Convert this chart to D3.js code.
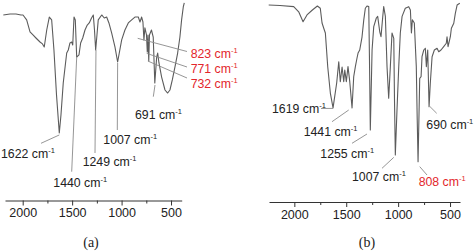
<!DOCTYPE html>
<html>
<head>
<meta charset="utf-8">
<script src="https://cdn.jsdelivr.net/npm/d3@7"></script>
<style>
  html, body { margin: 0; padding: 0; background: #fff; }
  svg { display: block; font-family: "Liberation Sans", Arial, sans-serif; }
  .spec { fill: none; stroke: #5c5c5c; stroke-width: 1.1; stroke-linejoin: round; }
  .lead { stroke: #8a8a8a; stroke-width: 0.9; }
  .axis path, .axis line { stroke: #333; }
  .axis text { font-size: 12.5px; fill: #222; font-family: "Liberation Sans", Arial, sans-serif; }
</style>
</head>
<body>
<svg id="chart" width="474" height="251"></svg>
<script>
// --- FTIR spectra, [wavenumber (cm-1), transmittance (a.u.)] ---
const spectrumA = [
  [2196, 91.9], [2128, 92.5], [2068, 92.5], [2017, 91.9], [1997, 91.9], [1960, 88.8],
  [1926, 81.3], [1896, 79.4], [1866, 77.5], [1825, 75.0], [1800, 73.8], [1782, 71.9],
  [1757, 82.5], [1731, 90.6], [1707, 88.8], [1684, 70.0], [1658, 41.9], [1630, 18.1],
  [1613, 29.4], [1590, 49.4], [1555, 68.1], [1539, 70.0], [1522, 74.4], [1505, 75.0],
  [1494, 73.1], [1481, 90.6], [1468, 88.8], [1454, 65.6], [1431, 66.9], [1414, 74.4],
  [1393, 77.5], [1370, 82.5], [1347, 85.6], [1327, 86.9], [1304, 90.0], [1286, 91.9],
  [1274, 82.5], [1262, 70.0], [1249, 79.4], [1236, 88.8], [1201, 91.9], [1175, 90.0],
  [1151, 90.6], [1128, 86.9], [1100, 80.6], [1067, 71.9], [1040, 62.5], [999, 76.3],
  [966, 82.5], [932, 86.9], [898, 88.8], [865, 90.6], [831, 90.6], [814, 87.5],
  [797, 90.6], [784, 87.5], [774, 76.3], [764, 83.8], [748, 79.4], [740, 68.8],
  [733, 79.4], [725, 63.1], [718, 79.4], [698, 82.5], [680, 78.1], [664, 49.4],
  [645, 65.6], [635, 68.1], [622, 61.9], [595, 53.1], [561, 45.0], [534, 43.1],
  [511, 45.0], [487, 51.3], [460, 59.4], [433, 68.1], [410, 78.1], [393, 88.8],
  [376, 96.9], [366, 99.4]
];

const spectrumB = [
  [2247, 98.1], [2138, 97.8], [2006, 97.1], [1958, 93.9], [1916, 87.7], [1878, 91.9],
  [1826, 95.0], [1778, 97.5], [1750, 96.1], [1733, 86.9], [1711, 82.5], [1701, 80.6],
  [1678, 59.4], [1653, 43.1], [1627, 33.8], [1592, 49.4], [1572, 62.7], [1557, 50.2],
  [1540, 59.4], [1524, 50.2], [1514, 57.5], [1499, 50.2], [1483, 59.6], [1466, 50.2],
  [1444, 33.8], [1428, 53.3], [1412, 59.6], [1396, 65.0], [1386, 68.1], [1370, 70.0],
  [1348, 78.1], [1331, 88.8], [1316, 96.1], [1300, 97.5], [1283, 97.1], [1276, 63.8],
  [1268, 20.0], [1251, 70.0], [1235, 84.6], [1210, 90.0], [1197, 91.0], [1177, 81.4],
  [1165, 78.3], [1148, 91.0], [1139, 97.1], [1123, 91.0], [1107, 59.6], [1091, 39.8],
  [1075, 59.6], [1059, 80.6], [1042, 77.3], [1035, 38.8], [1027, 4.4], [1011, 32.5],
  [994, 59.6], [979, 80.6], [962, 91.0], [931, 96.1], [898, 97.1], [882, 95.0],
  [872, 80.6], [863, 88.8], [844, 86.9], [825, 59.6], [816, 26.3], [808, 0.2],
  [792, 52.3], [779, 53.3], [770, 65.8], [753, 70.0], [738, 71.1], [728, 59.6],
  [715, 70.0], [702, 34.6], [690, 49.4], [673, 65.8], [651, 70.0], [625, 71.1],
  [609, 68.9], [587, 70.0], [561, 72.1], [536, 74.2], [529, 78.3], [519, 72.1],
  [497, 78.3], [487, 83.6], [464, 86.7], [449, 92.9], [432, 98.1], [406, 99.2]
];

// peak labels and the spectrum point each leader line reaches
const peaksA = ["1622", "1440", "1249", "1007", "691", "823", "771", "732"];
const peakTipsA = [[1630, 16.9], [1454, 65.6], [1259, 70.0], [1040, 61.9], [662, 48.1], [837, 77.3], [746, 67.9], [734, 63.1]];
const peaksB = ["1619", "1441", "1255", "1007", "808", "690"];
const peakTipsB = [[1627, 33.5], [1476, 32.5], [1300, 17.5], [1042, 2.9], [792, -2.9], [693, 34.6]];

const majorTicks = [2000, 1500, 1000, 500];
const minorTicks = [1750, 1250, 750];

// --- layout ---
const RED = "#e3262b";
const TXT = "#222";
// label: [left x, baseline y, leader start x, leader start y, red?]
const layoutA = [
  [1, 157.5, 41, 143.3, false],
  [53.3, 187.3, 71.7, 171.7, false],
  [82.7, 166, 95, 153, false],
  [103.3, 144.3, 117.3, 130, false],
  [135, 119.3, 153.3, 96.7, false],
  [190.7, 57.8, 187, 51.5, true],
  [190.7, 73.2, 187, 67, true],
  [190.7, 87.6, 187, 78, true]
];
const layoutB = [
  [272, 112.6, 321, 108.5, false],
  [303.7, 136, 332, 121.7, false],
  [320.3, 157.6, 352, 143.3, false],
  [352, 181, 382, 168.3, false],
  [418.7, 186, 427, 175, true],
  [426.3, 129.3, 436.7, 113.3, false]
];

const svg = d3.select("#chart");
const y = d3.scaleLinear().domain([0, 100]).range([162, 2]);

function panel({ data, peaks, tips, layout, domain, range, axisY, caption, captionX }) {
  const x = d3.scaleLinear().domain(domain).range(range);
  const g = svg.append("g");

  g.append("path")
    .datum(data)
    .attr("class", "spec")
    .attr("d", d3.line().x(d => x(d[0])).y(d => y(d[1])));

  // leader lines
  g.selectAll("line.lead")
    .data(tips)
    .join("line")
    .attr("class", "lead")
    .attr("x1", (d, i) => layout[i][2]).attr("y1", (d, i) => layout[i][3])
    .attr("x2", d => x(d[0])).attr("y2", d => y(d[1]));

  // labels
  const lab = g.selectAll("text.peak")
    .data(peaks)
    .join("text")
    .attr("class", "peak")
    .attr("x", (d, i) => layout[i][0])
    .attr("y", (d, i) => layout[i][1])
    .attr("font-size", 12.3)
    .attr("fill", (d, i) => layout[i][4] ? RED : TXT);
  lab.append("tspan").text(d => d + " cm");
  lab.append("tspan").attr("dy", -5).attr("font-size", 7.5).text("-1");

  // axes
  g.append("g")
    .attr("class", "axis")
    .attr("transform", `translate(0,${axisY})`)
    .call(d3.axisBottom(x).tickValues(majorTicks).tickFormat(d3.format("d"))
      .tickSize(5).tickSizeOuter(0).tickPadding(3))
    .call(a => a.selectAll("text").attr("dy", "0.71em"));
  g.append("g")
    .attr("class", "axis")
    .attr("transform", `translate(0,${axisY})`)
    .call(d3.axisBottom(x).tickValues(minorTicks).tickSize(3).tickSizeOuter(0).tickFormat(""))
    .call(a => a.select(".domain").remove());

  g.append("text")
    .attr("x", captionX).attr("y", 247)
    .attr("text-anchor", "middle")
    .attr("font-family", "'Liberation Serif', 'Times New Roman', serif")
    .attr("font-size", 14)
    .attr("fill", TXT)
    .text(caption);
}

panel({
  data: spectrumA, peaks: peaksA, tips: peakTipsA, layout: layoutA,
  domain: [2179, 392], range: [5, 181.7], axisY: 200.5, caption: "(a)", captionX: 91
});
panel({
  data: spectrumB, peaks: peaksB, tips: peakTipsB, layout: layoutB,
  domain: [2244, 404], range: [269, 460], axisY: 202, caption: "(b)", captionX: 367
});
</script>
</body>
</html>
